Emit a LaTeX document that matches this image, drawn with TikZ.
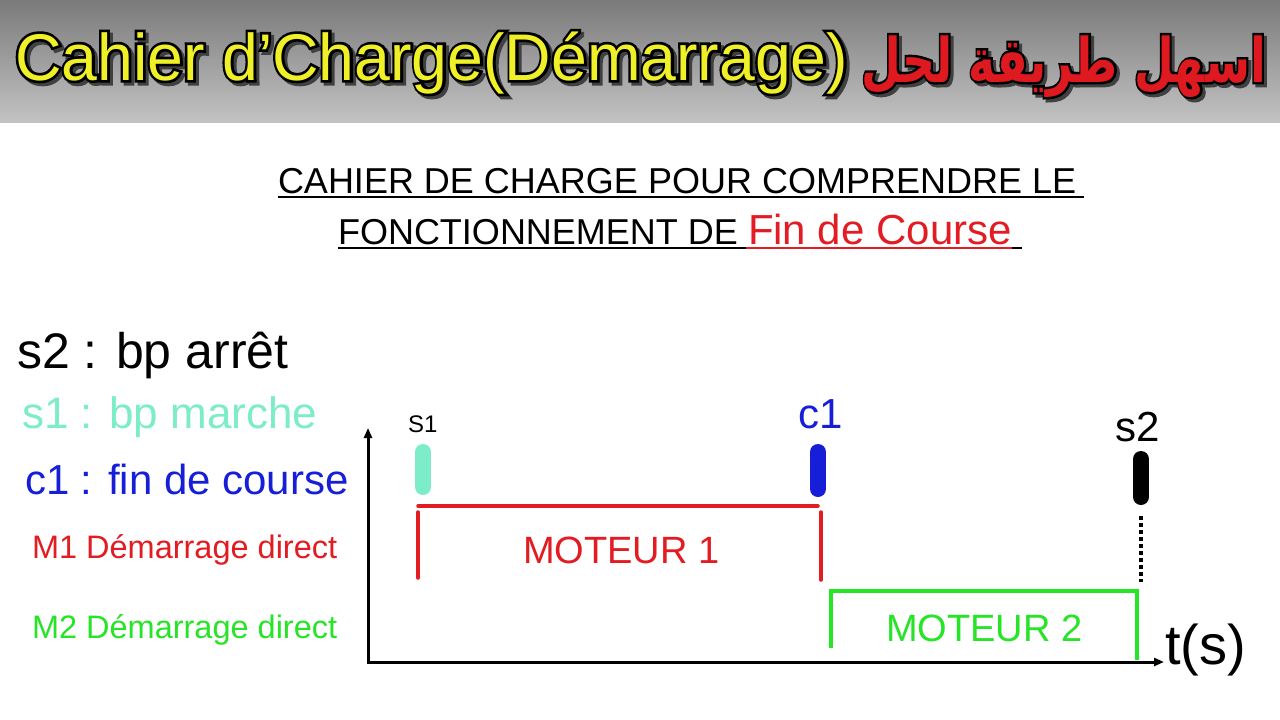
\documentclass[tikz,border=0pt]{standalone}
\usepackage{fontspec}
\setmainfont{Liberation Sans}
\newfontfamily\arabicfont[Script=Arabic]{DejaVu Sans}
\newfontfamily\arabicol[Script=Arabic, FakeBold=8]{DejaVu Sans Bold}
\newfontfamily\arabicfill[Script=Arabic]{DejaVu Sans Bold}
\newfontfamily\titleol[FakeBold=8]{Liberation Sans}
\TeXXeTstate=1
\usetikzlibrary{arrows.meta}
\definecolor{aquac}{RGB}{125,236,200}
\definecolor{cblue}{RGB}{22,30,215}
\definecolor{mred}{RGB}{226,28,34}
\definecolor{mgreen}{RGB}{38,228,38}
\definecolor{tyellow}{RGB}{240,240,40}
\definecolor{ared}{RGB}{222,26,32}
\definecolor{bantop}{RGB}{140,140,140}
\definecolor{banbot}{RGB}{222,222,222}
\newcommand\fsz[1]{\fontsize{#1}{#1}\selectfont}
\newcommand\titletext{\fsz{66}\scalebox{0.975}[1]{Cahier d’Charge(Démarrage)}}
\newcommand\arabictext{\fsz{58}\scalebox{0.79}[1.06]{\beginR اسهل طريقة لحل\endR}}
\tikzset{
  txt/.style={anchor=base west, inner sep=0pt, outer sep=0pt},
  atxt/.style={anchor=base east, inner sep=0pt, outer sep=0pt},
  pulse/.style={line width=16pt, line cap=round},
  bracket/.style={line width=3.5pt, line cap=round},
  axis/.style={line width=3pt, -{Triangle[length=10pt,width=8pt]}},
}
\begin{document}
\begin{tikzpicture}[x=1pt,y=-1pt]
\useasboundingbox (0,0) rectangle (1280,720);
\fill[white] (0,0) rectangle (1280,720);
% banner
\shade[top color=bantop, bottom color=banbot] (0,0) rectangle (1280,122);
\shade[left color=black, middle color=white, right color=black, fill opacity=0.12] (0,0) rectangle (1280,122);
% title: shadow, outline, fill
\node[txt, text=black!75] (tsh) at (18,83) {\titleol\titletext};
\node[txt, text=black] (tol) at (15,80) {\titleol\titletext};
\node[txt, text=tyellow] (title) at (15,80) {\titletext};
\node[atxt, text=black!75] (ash) at (1269,85) {\arabicol\arabictext};
\node[atxt, text=black] (aol) at (1266,82) {\arabicol\arabictext};
\node[atxt, text=ared] (arabic) at (1266,82) {\arabicfill\arabictext};
% heading
\node[txt] (h1) at (278,193) {\fsz{36}CAHIER DE CHARGE POUR COMPRENDRE LE};
\draw[line width=2pt] (278,197) -- (1084,197);
\node[txt] (h2) at (338,244) {\fsz{36}FONCTIONNEMENT DE};
\node[txt, text=mred] (h3) at (748,244) {\fsz{42}Fin de Course};
\draw[line width=2pt] (338,248) -- (746,248);
\draw[line width=2pt, mred] (746,248) -- (1012,248);
\draw[line width=2pt] (1012,248) -- (1022,248);
% legend
\node[txt] (ls2) at (17,368) {\fsz{50}s2 : bp arrêt};
\node[txt, text=aquac] (ls1) at (22,428) {\fsz{44}s1 : bp marche};
\node[txt, text=cblue] (lc1) at (25,494) {\fsz{42}c1 : fin de course};
\node[txt, text=mred] (lm1) at (32,558) {\fsz{32.5}M1 Démarrage direct};
\node[txt, text=mgreen] (lm2) at (32,638) {\fsz{32.5}M2 Démarrage direct};
% axes
\coordinate (O) at (368,662);
\coordinate (ytip) at (368,428);
\coordinate (xtip) at (1164,662);
\draw[axis] ([yshift=1.5pt]O) -- (ytip);
\draw[axis] ([xshift=-1.5pt]O) -- (xtip);
\node[txt] (ts) at (1165,664) {\fsz{56}t(s)};
% pulses
\node[txt] (S1) at (408,432) {\fsz{24}S1};
\coordinate (s1a) at (423,452);
\coordinate (s1b) at (423,487);
\draw[pulse, aquac] (s1a) -- (s1b);
\node[txt, text=cblue] (C1) at (798,428) {\fsz{42}c1};
\coordinate (c1a) at (818,452);
\coordinate (c1b) at (818,489);
\draw[pulse, cblue] (c1a) -- (c1b);
\node[txt] (S2) at (1115,441) {\fsz{42}s2};
\coordinate (s2a) at (1141,459);
\coordinate (s2b) at (1141,497);
\draw[pulse, black] (s2a) -- (s2b);
\coordinate (d2a) at (1141,516);
\coordinate (d2b) at (1141,582);
\draw[line width=4pt, dash pattern=on 4pt off 3pt] (d2a) -- (d2b);
% motor 1
\coordinate (m1a) at (418,506);
\coordinate (m1b) at (818,506);
\draw[bracket, mred] (m1a) -- (m1b);
\draw[bracket, mred] (418,512) -- (418,578);
\draw[bracket, mred] (821,512) -- (821,580);
\node[txt, text=mred] (mot1) at (523,563) {\fsz{38}MOTEUR 1};
% motor 2
\draw[bracket, mgreen, line cap=butt] (831,648) -- (831,591) -- (1137,591) -- (1137,660);
\node[txt, text=mgreen] (mot2) at (886,641) {\fsz{38}MOTEUR 2};
\end{tikzpicture}
\end{document}
